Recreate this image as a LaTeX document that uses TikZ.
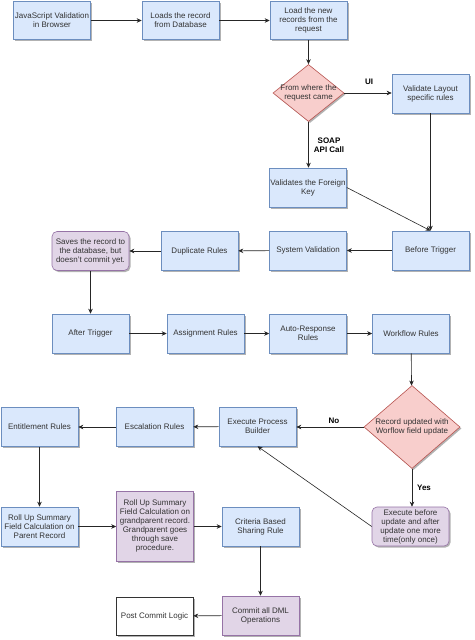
\documentclass[tikz,border=0pt]{standalone}
\usepackage{fontspec}
\setmainfont{Liberation Sans}
\usetikzlibrary{shapes.geometric,arrows.meta,shadows}
\definecolor{bfill}{HTML}{DAE8FC}
\definecolor{bdraw}{HTML}{6C8EBF}
\definecolor{pfill}{HTML}{E1D5E7}
\definecolor{pdraw}{HTML}{9673A6}
\definecolor{rfill}{HTML}{F8CECC}
\definecolor{rdraw}{HTML}{B85450}
\definecolor{txt}{HTML}{333333}
\begin{document}
\begin{tikzpicture}[x=1pt,y=-1pt,
  every node/.style={font=\fontsize{8}{9}\selectfont, text=txt},
  shad/.style={drop shadow={shadow xshift=1.5pt, shadow yshift=-1.5pt, opacity=0.3, fill=black}},
  box/.style={shape=rectangle, draw=bdraw, fill=bfill, line width=0.6pt, minimum width=77pt, minimum height=39pt, align=center, inner sep=1pt, shad},
  pbox/.style={box, draw=pdraw, fill=pfill},
  wbox/.style={box, draw=black!80, fill=white},
  dia/.style={shape=diamond, draw=rdraw, fill=rfill, line width=0.6pt, inner sep=0pt, shad},
  arr/.style={draw=black!85, line width=0.6pt, -{Stealth[length=5pt,width=4.5pt]}},
  lab/.style={font=\fontsize{8}{9}\selectfont\bfseries, text=black, align=center}
]
\useasboundingbox (0,0) rectangle (474,640);
\fill[white] (0,0) rectangle (474,640);

% row 1
\node[box, minimum height=38pt] (js) at (52,20.5) {JavaScript Validation\\in Browser};
\node[box, minimum height=38pt] (ld) at (180.5,20.5) {Loads the record\\from Database};
\node[box, minimum height=38pt] (ln) at (308.5,20.5) {Load the new\\records from the\\request};

% decision 1
\node[dia, minimum width=71pt, minimum height=57pt] (d1) at (308.5,93) {};
\node[align=center] at (d1) {From where the\\request came};
\node[box] (vl) at (430.5,93.5) {Validate Layout\\specific rules};
\node[box] (fk) at (308,187.5) {Validates the Foreign\\Key};

% row before trigger
\node[box] (bt) at (430.5,250.5) {Before Trigger};
\node[box] (sv) at (308,250.5) {System Validation};
\node[box] (dr) at (199.5,251) {Duplicate Rules};
\node[pbox, rounded corners=5pt] (sr) at (90.5,251) {Saves the record to\\the database, but\\doesn't commit yet.};

% row after trigger
\node[box] (at) at (90.5,333.5) {After Trigger};
\node[box] (as) at (205.5,333.5) {Assignment Rules};
\node[box] (ar) at (308,333.5) {Auto-Response\\Rules};
\node[box] (wf) at (411,333.5) {Workflow Rules};

% decision 2
\node[dia, minimum width=96pt, minimum height=83pt] (d2) at (412,427) {};
\node[align=center] at (d2) {Record updated with\\Worflow field update};
\node[box] (pb) at (257.5,426.5) {Execute Process\\Builder};
\node[box] (es) at (154.5,427) {Escalation Rules};
\node[box] (en) at (39.5,427) {Entitlement Rules};

% bottom rows
\node[box] (rp) at (39.5,526.5) {Roll Up Summary\\Field Calculation on\\Parent Record};
\node[pbox, minimum height=70pt] (rg) at (155,526) {Roll Up Summary\\Field Calculation on\\grandparent record.\\Grandparent goes\\through save\\procedure.};
\node[box] (cb) at (260.5,526.5) {Criteria Based\\Sharing Rule};
\node[pbox, rounded corners=5pt] (eb) at (410.5,526.5) {Execute before\\update and after\\update one more\\time(only once)};
\node[pbox] (cm) at (260.5,615.5) {Commit all DML\\Operations};
\node[wbox, minimum height=38pt] (pc) at (154.5,616) {Post Commit Logic};

% labels
\node[lab] (lui) at (369,82) {UI};
\node[lab] (lsoap) at (329,145) {SOAP\\API Call};
\node[lab] (lno) at (334,421) {No};
\node[lab] (lyes) at (424,488) {Yes};

% connectors
\draw[arr] (js) -- (ld);
\draw[arr] (ld) -- (ln);
\draw[arr] (ln) -- (d1);
\draw[arr] (d1.east) -- (vl.west |- d1.east);
\draw[arr] (d1.south) -- (fk.north -| d1.south);
\draw[arr] (vl) -- (bt);
\draw[arr] (fk.east) -- (bt.north);
\draw[arr] (bt) -- (sv);
\draw[arr] (sv) -- (dr);
\draw[arr] (dr) -- (sr);
\draw[arr] (sr) -- (at);
\draw[arr] (at) -- (as);
\draw[arr] (as) -- (ar);
\draw[arr] (ar) -- (wf);
\draw[arr] (wf) -- (d2);
\draw[arr] (d2.west) -- (pb.east |- d2.west);
\draw[arr] (pb) -- (es);
\draw[arr] (es) -- (en);
\draw[arr] (en) -- (rp);
\draw[arr] (rp) -- (rg.west |- rp.east);
\draw[arr] (rg.east |- cb.west) -- (cb.west);
\draw[arr] (cb) -- (cm);
\draw[arr] (cm) -- (pc);
\draw[arr] (d2.south) -- (eb.north -| d2.south);
\draw[arr] (eb.west) -- (pb.south);
\end{tikzpicture}
\end{document}
